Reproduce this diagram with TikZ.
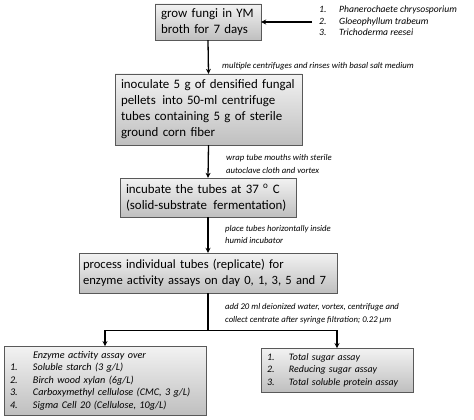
\documentclass[tikz,border=0pt]{standalone}
\usepackage{fontspec}
\setmainfont{Carlito}
\usetikzlibrary{positioning,shadows,arrows.meta}

\begin{document}
\begin{tikzpicture}[x=1pt,y=-1pt,
    stepbox/.style={draw=black!65, top color=gray!10, bottom color=gray!50,
      inner xsep=6pt, inner ysep=3pt, align=left,
      font=\fontsize{12.9}{16}\selectfont,
      drop shadow={shadow xshift=1.2pt,shadow yshift=-1.2pt,opacity=.35}},
    note/.style={font=\fontsize{8.7}{12.5}\selectfont\itshape, align=left,
      anchor=west, inner sep=0pt},
    flow/.style={-{Stealth[length=5pt,width=5pt]}, line width=1.3pt}]
    \useasboundingbox[fill=white] (0,0) rectangle (474,420);

    % main steps
    \node[stepbox, minimum width=106pt, minimum height=36pt, text width=94pt] (grow) at (208,22)
      {grow fungi in YM\\broth for 7 days};
    \node[stepbox, minimum width=187pt, minimum height=71pt, text width=175pt] (inoc) at (208.5,109.5)
      {inoculate 5 g of densified fungal\\pellets\, into 50-ml centrifuge\\tubes containing 5 g of sterile\\ground corn fiber};
    \node[stepbox, minimum width=176pt, minimum height=39pt, text width=164pt] (incub) at (208,197.5)
      {incubate the tubes at 37 \textsuperscript{o} C\\(solid-substrate\, fermentation)};
    \node[stepbox, minimum width=258pt, minimum height=40pt, text width=250pt, inner xsep=4pt,
      font=\fontsize{12.6}{16}\selectfont] (assays) at (208,273)
      {process individual tubes (replicate) for\\enzyme activity assays on day 0, 1, 3, 5 and 7};

    % assay boxes
    \node[stepbox, minimum width=202pt, minimum height=67pt, text width=190pt,
      font=\fontsize{10.2}{12.5}\selectfont\itshape] (enzyme) at (105,380.5)
      {\begin{tabular}{@{}p{17pt}@{\hspace{6pt}}l@{}}
        & Enzyme activity assay over\\
        1. & Soluble starch (3 g/L)\\
        2. & Birch wood xylan (6g/L)\\
        3. & Carboxymethyl cellulose (CMC, 3 g/L)\\
        4. & Sigma Cell 20 (Cellulose, 10g/L)
      \end{tabular}};
    \node[stepbox, minimum width=152pt, minimum height=42pt, text width=140pt,
      font=\fontsize{9.9}{12.5}\selectfont\itshape] (totals) at (337,370)
      {\begin{tabular}{@{}p{16pt}@{\hspace{6pt}}l@{}}
        1. & Total sugar assay\\
        2. & Reducing sugar assay\\
        3. & Total soluble protein assay
      \end{tabular}};

    % fungal strains
    \node[anchor=west, inner ysep=0pt, inner xsep=7pt, align=left,
      font=\fontsize{9.6}{11.5}\selectfont\itshape] (strains) at (312,22)
      {\begin{tabular}{@{}p{14pt}@{\hspace{6pt}}l@{}}
        1. & Phanerochaete chrysosporium\\
        2. & Gloeophyllum trabeum\\
        3. & Trichoderma reesei
      \end{tabular}};

    \draw[flow] (strains.west) -- (grow.east);
    \draw[flow] (grow.south) -- (inoc.north);
    \draw[flow] (inoc.south) -- (incub.north);
    \draw[flow] (incub.south) -- (assays.north);
    \draw[line width=1.3pt] (assays.south) -- ++(0,37) coordinate (fork);
    \draw[flow] (fork) -| (enzyme.north);
    \draw[flow] (fork) -| (totals.north);

    % handling notes
    \node[note] (rinse) at (222,66) {multiple centrifuges and rinses with basal salt medium};
    \node[note] (wrap) at (226,164) {wrap tube mouths with sterile\\autoclave cloth and vortex};
    \node[note] (place) at (225,234.5) {place tubes horizontally inside\\humid incubator};
    \node[note] (water) at (225,313.5) {add 20 ml deionized water, vortex, centrifuge and\\collect centrate after syringe filtration; 0.22 µm};
\end{tikzpicture}
\end{document}
